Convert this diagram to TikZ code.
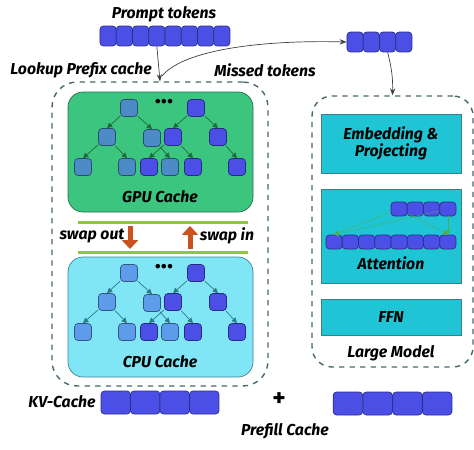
\documentclass[tikz,border=0pt]{standalone}
\usepackage{fontspec}
\setmainfont{Fira Sans}
\usetikzlibrary{arrows.meta}

\definecolor{tokfill}{HTML}{4B4FE6}
\definecolor{tokline}{HTML}{2B2E86}
\definecolor{gpufill}{HTML}{3CC57F}
\definecolor{gpuline}{HTML}{2D6B4F}
\definecolor{cpufill}{HTML}{80E6F6}
\definecolor{cpuline}{HTML}{3B8494}
\definecolor{gpulite}{HTML}{4C8BC6}
\definecolor{cpulite}{HTML}{5C9CEB}
\definecolor{gpuedge}{HTML}{1E6B40}
\definecolor{cpuedge}{HTML}{2D7A86}
\definecolor{layerfill}{HTML}{1FC5D5}
\definecolor{layerline}{HTML}{3A7E86}
\definecolor{boxdash}{HTML}{44696A}
\definecolor{swapbar}{HTML}{8DC63F}
\definecolor{swaparrow}{HTML}{C9521F}
\definecolor{attnline}{HTML}{4DAF4F}

\begin{document}
\begin{tikzpicture}[x=0.02cm, y=-0.02cm,
    font=\fontsize{9}{10}\selectfont\bfseries\itshape,
    lbl/.style={inner sep=0pt},
    tok/.style={draw=tokline, fill=tokfill, rounded corners=2pt, inner sep=0pt,
      minimum width=0.325cm, minimum height=0.4cm},
    bigtok/.style={tok, minimum width=0.59cm, minimum height=0.46cm},
    attok/.style={tok, minimum height=0.28cm},
    tnode/.style={draw=#1!55!black, fill=#1, rounded corners=2pt, inner sep=0pt, minimum size=0.34cm},
    tedge/.style={draw=#1, thin, -{Triangle[length=3pt,width=3pt]}},
    dashbox/.style={draw=boxdash, dashed, thick, rounded corners=0.5cm},
    layer/.style={draw=layerline, fill=layerfill, minimum width=2.8cm, inner sep=0pt},
    link/.style={draw=black!75, thin, -{Stealth[length=4pt]}}]
  \useasboundingbox (0,0) rectangle (474,450);

  % Containers
  \node[dashbox, minimum width=4.32cm, minimum height=6.08cm] (lpc) at (160,234) {};
  \node[dashbox, rounded corners=0.4cm, minimum width=3.22cm, minimum height=5.42cm] (lm) at (392.5,231.5) {};
  \draw[draw=gpuline, fill=gpufill, rounded corners=0.3cm] (68,92) rectangle (253,212);
  \draw[draw=cpuline, fill=cpufill, rounded corners=0.3cm] (68,257) rectangle (253,377);
  \node[lbl] (gpu) at (160,197) {GPU Cache};
  \node[lbl] (cpu) at (160,362) {CPU Cache};

  % Token rows
  \node[lbl] (pt) at (164,14) {Prompt tokens};
  \foreach \i in {1,...,8}
    \node[tok] (p\i) at ({108.1+16.25*(\i-1)},36) {};
  \foreach \i in {1,...,4}
    \node[tok] (m\i) at ({355.1+16.25*(\i-1)},42) {};

  \node[lbl] (look) at (81,70) {Lookup Prefix cache};
  \node[lbl] (miss) at (265,70) {Missed tokens};
  \coordinate (split) at (162,76);
  \draw[link] (p4.south) -- (lpc.north);
  \draw[link] (split) .. controls (185,48) and (270,40) .. (m1.west);
  \draw[link] (m3.south) to[bend left=8] (lm.north);

  % Prefix trees
  \foreach \c/\dy/\lt/\ed in {g/0/gpulite/gpuedge, c/165/cpulite/cpuedge} {
    \node[tnode=\lt] (\c-r1) at (129,{108+\dy}) {};
    \node[tnode=tokfill] (\c-r2) at (196,{108+\dy}) {};
    \node[lbl, font=\Large\bfseries] (\c-dots) at (164,{102+\dy}) {...};
    \node[tnode=\lt] (\c-a) at (107,{137+\dy}) {};
    \node[tnode=\lt] (\c-b) at (152,{138+\dy}) {};
    \node[tnode=tokfill] (\c-c) at (173,{137+\dy}) {};
    \node[tnode=tokfill] (\c-d) at (218,{137+\dy}) {};
    \node[tnode=\lt] (\c-e) at (83,{167+\dy}) {};
    \node[tnode=\lt] (\c-f) at (127,{167+\dy}) {};
    \node[tnode=tokfill] (\c-g) at (149,{167+\dy}) {};
    \node[tnode=\lt] (\c-h) at (170,{167+\dy}) {};
    \node[tnode=tokfill] (\c-i) at (193,{167+\dy}) {};
    \node[tnode=tokfill] (\c-j) at (237,{167+\dy}) {};
    \foreach \p/\k in {r1/a, r1/b, r2/c, r2/d, a/e, a/f, b/h, c/g, c/i, d/j}
      \draw[tedge=\ed] (\c-\p) -- (\c-\k.north);
  }

  % Swap
  \draw[swapbar, line width=0.06cm] (78,222) coordinate (bar1l) -- (248,222) coordinate (bar1r);
  \draw[swapbar, line width=0.06cm] (78,252) coordinate (bar2l) -- (248,252) coordinate (bar2r);
  \node[lbl] (sout) at (92,236) {swap out};
  \node[lbl] (sin) at (227,236) {swap in};
  \coordinate (o1) at (130,226); \coordinate (o2) at (130,249);
  \coordinate (i1) at (190,249); \coordinate (i2) at (190,226);
  \draw[swaparrow, line width=0.1cm, -{Triangle[length=5pt,width=9pt]}] (o1) -- (o2);
  \draw[swaparrow, line width=0.1cm, -{Triangle[length=5pt,width=9pt]}] (i1) -- (i2);

  % Large model
  \node[layer, minimum height=1.18cm, align=center] (emb) at (391,143.5) {Embedding \&\\Projecting};
  \node[layer, minimum height=1.88cm] (att) at (391,236) {};
  \node[lbl] (attl) at (391,263) {Attention};
  \node[layer, minimum height=0.72cm] (ffn) at (391,317) {FFN};
  \node[lbl] (lml) at (391,353) {Large Model};
  \foreach \i in {1,...,4}
    \node[attok] (aq\i) at ({399.1+16.25*(\i-1)},209) {};
  \foreach \i in {1,...,8}
    \node[attok] (ak\i) at ({334.1+16.25*(\i-1)},242) {};
  \foreach \q in {1,4}
    \foreach \k in {1,8}
      \draw[attnline, very thin, -{Triangle[length=2.5pt,width=3pt]}] (aq\q) -- (ak\k.north);

  % Caches
  \node[lbl] (kvl) at (62,402) {KV-Cache};
  \foreach \i in {1,...,4}
    \node[bigtok] (kv\i) at ({115.75+29.5*(\i-1)},402.5) {};
  \node[lbl, font=\Large\bfseries] (plus) at (279,400) {+};
  \foreach \i in {1,...,4}
    \node[bigtok] (pf\i) at ({347.9+29.75*(\i-1)},403.5) {};
  \node[lbl] (pfl) at (285,431) {Prefill Cache};
\end{tikzpicture}
\end{document}
